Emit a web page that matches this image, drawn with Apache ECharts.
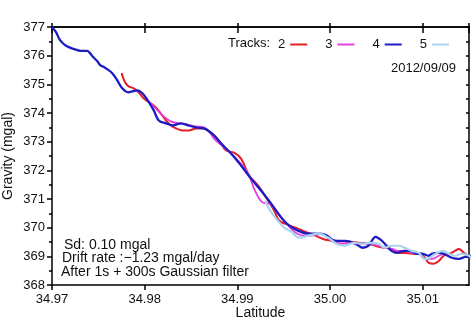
<!DOCTYPE html>
<html>
<head>
<meta charset="utf-8">
<style>
  html, body { margin: 0; padding: 0; background: #ffffff; }
  #chart { width: 474px; height: 322px; }
</style>
<script src="https://cdn.jsdelivr.net/npm/echarts@6/dist/echarts.min.js"></script>
</head>
<body>
<div id="chart"></div>
<script>
// Gravity profiles (mgal) against latitude for four survey tracks.
const track2Lat = [34.97751, 34.97773, 34.97794, 34.97827, 34.97881, 34.97935, 34.97989, 34.98065, 34.98119, 34.98173, 34.98249, 34.98314, 34.98412, 34.98477, 34.98553, 34.98629, 34.98694, 34.98770, 34.98824, 34.98878, 34.98965, 34.99040, 34.99127, 34.99225, 34.99311, 34.99398, 34.99452, 34.99550, 34.99658, 34.99766, 34.99842, 34.99950, 35.00059, 35.00200, 35.00308, 35.00416, 35.00524, 35.00589, 35.00665, 35.00741, 35.00806, 35.00882, 35.00958, 35.01023, 35.01066, 35.01120, 35.01174, 35.01228, 35.01293, 35.01348, 35.01391, 35.01445, 35.01499, 35.01532];
const track2Grav = [375.39, 375.18, 375.04, 374.93, 374.86, 374.72, 374.51, 374.34, 374.20, 373.99, 373.67, 373.50, 373.39, 373.39, 373.46, 373.46, 373.36, 373.15, 372.94, 372.69, 372.62, 372.41, 371.82, 371.47, 371.05, 370.59, 370.24, 370.10, 369.96, 369.82, 369.72, 369.58, 369.54, 369.51, 369.47, 369.44, 369.33, 369.30, 369.26, 369.12, 369.12, 369.09, 369.09, 368.95, 368.77, 368.74, 368.84, 369.02, 369.09, 369.19, 369.26, 369.12, 369.02, 368.95];

const track3Lat = [34.98033, 34.98119, 34.98206, 34.98282, 34.98368, 34.98455, 34.98553, 34.98639, 34.98694, 34.98748, 34.98856, 34.98932, 34.99008, 34.99116, 34.99181, 34.99236, 34.99279, 34.99344, 34.99420, 34.99506, 34.99582, 34.99647, 34.99723, 34.99799, 34.99907, 35.00015, 35.00091, 35.00146, 35.00200, 35.00308, 35.00416, 35.00524, 35.00589, 35.00665, 35.00741, 35.00806, 35.00882, 35.00958, 35.01023, 35.01098, 35.01174, 35.01239];
const track3Grav = [374.44, 374.16, 373.88, 373.71, 373.64, 373.60, 373.53, 373.50, 373.36, 373.11, 372.80, 372.59, 372.34, 371.89, 371.36, 371.01, 370.87, 370.84, 370.59, 370.24, 369.96, 369.79, 369.72, 369.72, 369.79, 369.54, 369.47, 369.44, 369.47, 369.44, 369.44, 369.37, 369.30, 369.26, 369.19, 369.19, 369.12, 369.09, 368.91, 368.91, 369.02, 369.09];

const track4Lat = [34.97000, 34.97043, 34.97087, 34.97141, 34.97195, 34.97249, 34.97303, 34.97379, 34.97412, 34.97444, 34.97488, 34.97520, 34.97563, 34.97596, 34.97650, 34.97704, 34.97758, 34.97823, 34.97877, 34.97921, 34.97975, 34.98033, 34.98098, 34.98152, 34.98228, 34.98304, 34.98390, 34.98466, 34.98553, 34.98639, 34.98683, 34.98748, 34.98824, 34.98932, 34.99040, 34.99148, 34.99257, 34.99365, 34.99473, 34.99560, 34.99658, 34.99766, 34.99842, 34.99950, 35.00059, 35.00167, 35.00275, 35.00351, 35.00416, 35.00492, 35.00546, 35.00611, 35.00665, 35.00719, 35.00795, 35.00860, 35.00936, 35.00990, 35.01066, 35.01098, 35.01174, 35.01228, 35.01315, 35.01391, 35.01456, 35.01532];
const track4Grav = [377.00, 376.82, 376.54, 376.37, 376.28, 376.22, 376.17, 376.17, 376.08, 375.95, 375.81, 375.67, 375.60, 375.53, 375.39, 375.14, 374.86, 374.72, 374.76, 374.79, 374.69, 374.44, 374.09, 373.74, 373.64, 373.57, 373.64, 373.57, 373.50, 373.46, 373.39, 373.22, 372.94, 372.59, 372.17, 371.71, 371.29, 370.84, 370.35, 370.07, 369.89, 369.79, 369.79, 369.75, 369.54, 369.54, 369.44, 369.30, 369.37, 369.68, 369.58, 369.37, 369.19, 369.12, 369.19, 369.19, 369.09, 369.09, 369.02, 369.09, 369.12, 369.09, 368.95, 368.91, 368.98, 369.02];

const track5Lat = [34.99300, 34.99355, 34.99420, 34.99506, 34.99582, 34.99669, 34.99766, 34.99874, 34.99982, 35.00069, 35.00152, 35.00254, 35.00341, 35.00449, 35.00524, 35.00589, 35.00665, 35.00741, 35.00806, 35.00882, 35.00958, 35.01023, 35.01077, 35.01152, 35.01228, 35.01282, 35.01348, 35.01423, 35.01499, 35.01532];
const track5Grav = [370.94, 370.59, 370.31, 370.00, 369.86, 369.65, 369.72, 369.79, 369.65, 369.44, 369.37, 369.47, 369.44, 369.47, 369.44, 369.30, 369.37, 369.37, 369.30, 369.19, 369.12, 368.91, 368.95, 369.12, 369.19, 369.09, 369.02, 369.09, 369.02, 368.91];

const trackNames = ['2', '3', '4', '5'];
const trackColors = ['#e41e26', '#e53fe0', '#1c1cc4', '#a9d3ee'];
const notes = ['Sd: 0.10 mgal', 'Drift rate :\u22121.23 mgal/day', 'After 1s + 300s Gaussian filter'];
const dateLabel = '2012/09/09';

const FONT = 'Liberation Sans, Arial, sans-serif';
const pair = (xs, ys) => xs.map((x, i) => [x, ys[i]]);
const tracks = [pair(track2Lat, track2Grav), pair(track3Lat, track3Grav),
                pair(track4Lat, track4Grav), pair(track5Lat, track5Grav)];
const widths = [2, 1.8, 2.3, 2.2];

const chart = echarts.init(document.getElementById('chart'), null, { renderer: 'canvas' });

const axisLine = { show: true, onZero: false, lineStyle: { color: '#000', width: 1.5 } };
const tickStyle = { color: '#000', width: 1.5 };
const xBase = { type: 'value', min: 34.97, max: 35.015, interval: 0.01, splitLine: { show: false } };
const yBase = { type: 'value', min: 368, max: 377, interval: 1, splitLine: { show: false } };

chart.setOption({
  animation: false,
  backgroundColor: '#ffffff',
  grid: { left: 52, right: 5, top: 27, bottom: 37, containLabel: false, outerBoundsMode: 'none' },
  legend: {
    data: trackNames,
    left: 273, top: 33,
    align: 'right',
    icon: 'rect',
    itemWidth: 17, itemHeight: 2,
    itemGap: 18,
    textStyle: { fontFamily: FONT, fontSize: 13, color: '#111' }
  },
  xAxis: [
    Object.assign({}, xBase, {
      position: 'bottom',
      name: 'Latitude', nameLocation: 'middle', nameGap: 21, nameMoveOverlap: false,
      nameTextStyle: { fontFamily: FONT, fontSize: 14, color: '#111' },
      axisLine: axisLine,
      axisTick: { show: true, inside: false, length: 5, lineStyle: tickStyle },
      axisLabel: { show: true, margin: 8, showMaxLabel: false, fontFamily: FONT, fontSize: 13, color: '#111',
                   formatter: v => v.toFixed(2) }
    }),
    Object.assign({}, xBase, {
      position: 'top',
      axisLine: axisLine,
      axisTick: { show: true, inside: true, length: 6, lineStyle: tickStyle },
      axisLabel: { show: false }
    }),
    Object.assign({}, xBase, {
      position: 'top',
      axisLine: axisLine,
      axisTick: { show: true, inside: false, length: 4, lineStyle: tickStyle },
      axisLabel: { show: false }
    })
  ],
  yAxis: [
    Object.assign({}, yBase, {
      position: 'left',
      name: 'Gravity (mgal)', nameLocation: 'middle', nameGap: 37, nameMoveOverlap: false,
      nameTextStyle: { fontFamily: FONT, fontSize: 14, color: '#111' },
      axisLine: axisLine,
      axisTick: { show: true, inside: false, length: 5, lineStyle: tickStyle },
      minorTick: { show: true, splitNumber: 2, length: 3, lineStyle: tickStyle },
      axisLabel: { show: true, margin: 7, fontFamily: FONT, fontSize: 13, color: '#111' }
    }),
    Object.assign({}, yBase, {
      position: 'right',
      axisLine: axisLine,
      axisTick: { show: true, inside: true, length: 3, lineStyle: tickStyle },
      minorTick: { show: true, splitNumber: 2, length: 3, lineStyle: tickStyle },
      axisLabel: { show: false }
    })
  ],
  series: tracks.map((data, i) => ({
    name: trackNames[i],
    type: 'line',
    data: data,
    xAxisIndex: 0, yAxisIndex: 0,
    showSymbol: false,
    smooth: 0.35,
    color: trackColors[i],
    lineStyle: { color: trackColors[i], width: widths[i] },
    z: 2 + i
  })),
  graphic: [
    { type: 'text', left: 228, top: 37, style: { text: 'Tracks:', font: '13px ' + FONT, fill: '#111' } },
    { type: 'text', right: 18, top: 62, style: { text: dateLabel, font: '13px ' + FONT, fill: '#111' } },
    { type: 'text', left: 64, top: 238, style: { text: notes[0], font: '14px ' + FONT, fill: '#111' } },
    { type: 'text', left: 62, top: 251, style: { text: notes[1], font: '14px ' + FONT, fill: '#111' } },
    { type: 'text', left: 61, top: 265, style: { text: notes[2], font: '14px ' + FONT, fill: '#111' } }
  ]
});
</script>
</body>
</html>
